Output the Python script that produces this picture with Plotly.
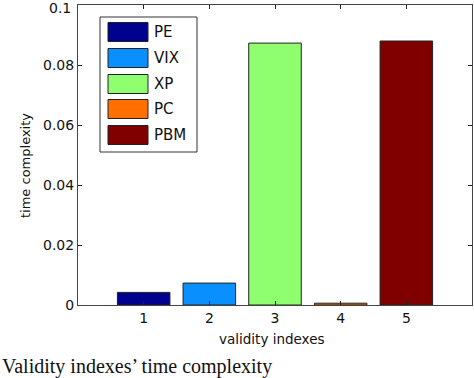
import plotly.graph_objects as go

categories = [1, 2, 3, 4, 5]
names = ["PE", "VIX", "XP", "PC", "PBM"]
values = [0.0042, 0.0073, 0.0873, 0.0006, 0.0880]
colors = ["#00008F", "#0A8FFF", "#8FFF70", "#FF7000", "#800000"]
ytick_vals = [0, 0.02, 0.04, 0.06, 0.08]
ytick_text = ["0", "0.02", "0.04", "0.06", "0.08"]
ytop_val, ytop_text = 0.1, "0.1"
xtitle = "validity indexes"
ytitle = "time complexity"
caption = "Validity indexes’ time complexity"

W, H = 474, 378
L, R, T, B = 78, 2, 5, 73
pw, ph = W - L - R, H - T - B

def px(x):
    return (x - L) / pw

def py(y):
    return (T + ph - y) / ph

fig = go.Figure()
for c, n, v, col in zip(categories, names, values, colors):
    fig.add_trace(go.Bar(x=[c], y=[v], name=n, width=0.8, marker_color=col,
                         marker_line=dict(color="#222222", width=1), showlegend=False))

font = "DejaVu Sans, Arial, sans-serif"
txt = "#111111"
axis_common = dict(showline=True, linecolor="#444444", linewidth=1, mirror="ticks",
                   ticks="inside", ticklen=4, tickcolor="#222222", showgrid=False,
                   zeroline=False, automargin=False,
                   tickfont=dict(family=font, size=14, color=txt))
fig.update_xaxes(range=[0, 6], tickvals=categories, ticktext=[str(c) for c in categories],
                 **axis_common)
fig.update_yaxes(range=[0, ytop_val], tickvals=ytick_vals + [ytop_val], ticktext=ytick_text + [""],
                 **axis_common)

# manual legend
shapes = [dict(type="rect", xref="paper", yref="paper", x0=px(100), x1=px(197), y0=py(152), y1=py(17),
               line=dict(color="#333333", width=1), fillcolor="white", layer="above")]
annotations = []
centers = [32, 58, 84, 109, 135]
for cy, n, col in zip(centers, names, colors):
    shapes.append(dict(type="rect", xref="paper", yref="paper", x0=px(108), x1=px(148),
                       y0=py(cy + 9.5), y1=py(cy - 9.5), line=dict(color="#222222", width=1),
                       fillcolor=col, layer="above"))
    annotations.append(dict(xref="paper", yref="paper", x=px(152), y=py(cy), text=n, showarrow=False,
                            xanchor="left", yanchor="middle", font=dict(family=font, size=15, color=txt)))

# top tick label (Plotly drops it at the figure edge)
annotations.append(dict(xref="paper", yref="y", x=px(73), y=ytop_val, text=ytop_text, showarrow=False,
                        xanchor="right", yanchor="middle", yshift=-3,
                        font=dict(family=font, size=14, color=txt)))

# axis titles
annotations.append(dict(xref="paper", yref="paper", x=px(272), y=py(339), text=xtitle, showarrow=False,
                        xanchor="center", yanchor="middle", font=dict(family=font, size=13.5, color=txt)))
annotations.append(dict(xref="paper", yref="paper", x=px(25), y=py(166), text=ytitle, showarrow=False,
                        textangle=-90, xanchor="center", yanchor="middle",
                        font=dict(family=font, size=13, color=txt)))

annotations.append(dict(xref="paper", yref="paper", x=px(0), y=py(366), text=caption,
                        showarrow=False, xanchor="left", yanchor="middle",
                        font=dict(family="Liberation Serif, Times New Roman, serif", size=20, color=txt)))

fig.update_layout(width=W, height=H, margin=dict(l=L, r=R, t=T, b=B),
                  paper_bgcolor="white", plot_bgcolor="white", barmode="overlay",
                  shapes=shapes, annotations=annotations, showlegend=False)

fig.write_html("out.html", config={"displayModeBar": False},
               post_script="document.body.style.margin='0';document.body.style.overflow='hidden';")
